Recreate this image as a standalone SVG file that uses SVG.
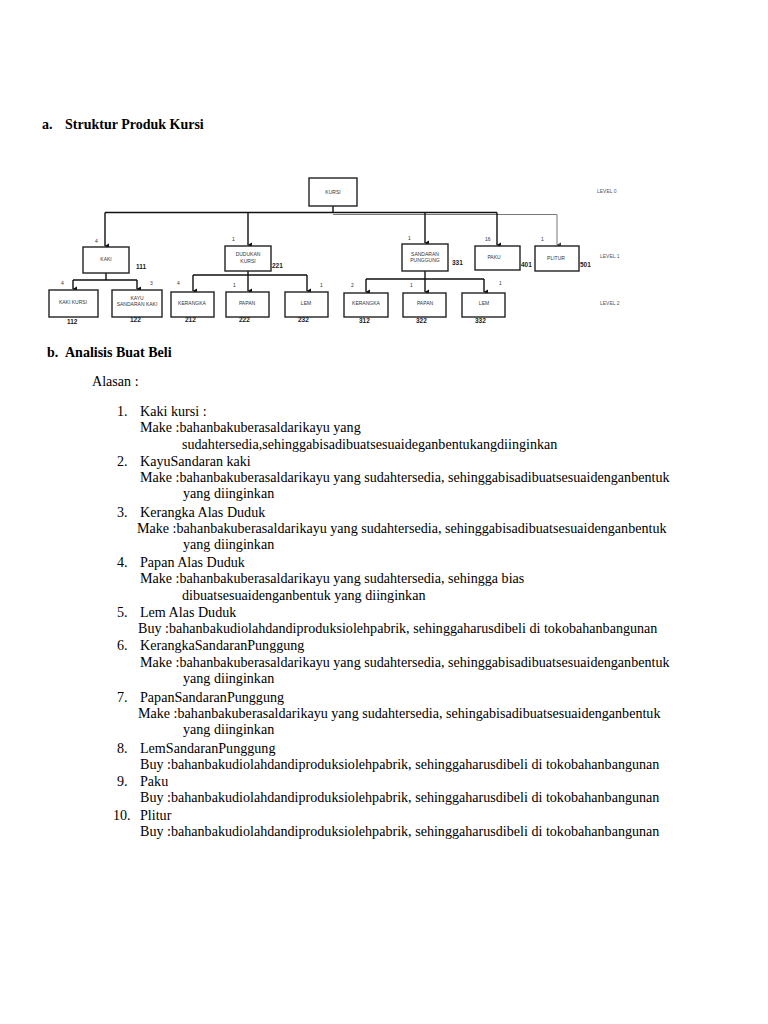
<svg xmlns="http://www.w3.org/2000/svg" width="768" height="1024" viewBox="0 0 768 1024">
<defs>
<marker id="ah" markerWidth="6" markerHeight="6" refX="3" refY="5" orient="auto" markerUnits="userSpaceOnUse" viewBox="0 0 6 6">
<path d="M0.5,1 L5.5,1 L3,5.5 Z" fill="#111"/>
</marker>
<marker id="ahg" markerWidth="6" markerHeight="6" refX="3" refY="5" orient="auto" markerUnits="userSpaceOnUse" viewBox="0 0 6 6">
<path d="M0.5,1 L5.5,1 L3,5.5 Z" fill="#444"/>
</marker>
<style>
.box{fill:#fff;stroke:#222;stroke-width:1.4}
.lbl{font-family:"Liberation Sans",Arial,sans-serif;font-size:5px;fill:#333;text-anchor:middle}
.qty{font-family:"Liberation Sans",Arial,sans-serif;font-size:5px;fill:#333}
.code{font-family:"Liberation Sans",Arial,sans-serif;font-size:6.5px;font-weight:bold;fill:#222}
.lvl{font-family:"Liberation Sans",Arial,sans-serif;font-size:5px;fill:#555}
.ln{fill:none;stroke:#111;stroke-width:1.4}
.lng{fill:none;stroke:#777;stroke-width:1}
.h{font-family:"Liberation Serif","Times New Roman",serif;font-size:14px;font-weight:bold;fill:#000}
.t{font-family:"Liberation Serif","Times New Roman",serif;font-size:14.1px;fill:#000}
</style>
</defs>
<rect width="768" height="1024" fill="#fff"/>

<text class="h" x="42" y="129">a.</text>
<text class="h" x="65" y="129">Struktur Produk Kursi</text>

<g id="connectors">
<path class="ln" d="M333,206 V212.5"/>
<path class="ln" d="M105,212.5 H497"/>
<path class="lng" d="M333,214.5 H557 V245" marker-end="url(#ahg)"/>
<path class="ln" d="M105,212.5 V246" marker-end="url(#ah)"/>
<path class="ln" d="M248,212.5 V245" marker-end="url(#ah)"/>
<path class="ln" d="M425,212.5 V243" marker-end="url(#ah)"/>
<path class="ln" d="M497,212.5 V245" marker-end="url(#ah)"/>

<path class="ln" d="M106,273 V280 M73,280 H137"/>
<path class="ln" d="M73,280 V289" marker-end="url(#ah)"/>
<path class="ln" d="M137,280 V289" marker-end="url(#ah)"/>

<path class="ln" d="M248,271 V275 M193,275 H307"/>
<path class="ln" d="M193,275 V291" marker-end="url(#ah)"/>
<path class="ln" d="M248,275 V291" marker-end="url(#ah)"/>
<path class="ln" d="M307,275 V291" marker-end="url(#ah)"/>

<path class="ln" d="M425,271 V279 M366,279 H484"/>
<path class="ln" d="M366,279 V292" marker-end="url(#ah)"/>
<path class="ln" d="M425,279 V292" marker-end="url(#ah)"/>
<path class="ln" d="M484,279 V292" marker-end="url(#ah)"/>
</g>

<g id="n-kursi"><rect class="box" x="309" y="178" width="48" height="28"/><text class="lbl" x="333" y="193.5">KURSI</text></g>

<g id="n-kaki"><rect class="box" x="83" y="247" width="46" height="26"/><text class="lbl" x="106" y="261">KAKI</text>
<text class="qty" x="95" y="243">4</text><text class="code" x="136" y="269">111</text></g>
<g id="n-dudukan"><rect class="box" x="225" y="246" width="46" height="25"/><text class="lbl" x="248" y="256">DUDUKAN</text><text class="lbl" x="248" y="262.5">KURSI</text>
<text class="qty" x="232" y="241">1</text><text class="code" x="272" y="268">221</text></g>
<g id="n-sandaran"><rect class="box" x="402" y="244" width="46" height="27"/><text class="lbl" x="425" y="256">SANDARAN</text><text class="lbl" x="425" y="261.5">PUNGGUNG</text>
<text class="qty" x="408" y="240">1</text><text class="code" x="452" y="265">331</text></g>
<g id="n-paku"><rect class="box" x="475" y="246" width="45" height="24"/><text class="lbl" x="494" y="259">PAKU</text>
<text class="qty" x="485" y="241">16</text><text class="code" x="521" y="267">401</text></g>
<g id="n-plitur"><rect class="box" x="535" y="246" width="44" height="25"/><text class="lbl" x="556" y="260">PLITUR</text>
<text class="qty" x="541" y="241">1</text><text class="code" x="580" y="267">501</text></g>

<g id="n-kakikursi"><rect class="box" x="49" y="290" width="49" height="27"/><text class="lbl" x="73" y="304">KAKI KURSI</text>
<text class="qty" x="61" y="285">4</text><text class="code" x="67" y="324">112</text></g>
<g id="n-kayu"><rect class="box" x="112" y="290" width="50" height="27"/><text class="lbl" x="137" y="299.5">KAYU</text><text class="lbl" x="137" y="306">SANDARAN KAKI</text>
<text class="qty" x="150" y="285">3</text><text class="code" x="130" y="322">122</text></g>
<g id="n-kerangka1"><rect class="box" x="171" y="292" width="43" height="25"/><text class="lbl" x="192" y="304.5">KERANGKA</text>
<text class="qty" x="177" y="285">4</text><text class="code" x="185" y="322">212</text></g>
<g id="n-papan1"><rect class="box" x="226" y="292" width="43" height="25"/><text class="lbl" x="247" y="304.5">PAPAN</text>
<text class="qty" x="233" y="287">1</text><text class="code" x="239" y="322">222</text></g>
<g id="n-lem1"><rect class="box" x="285" y="292" width="43" height="25"/><text class="lbl" x="306" y="304.5">LEM</text>
<text class="qty" x="320" y="287">1</text><text class="code" x="298" y="322">232</text></g>
<g id="n-kerangka2"><rect class="box" x="344" y="293" width="44" height="24"/><text class="lbl" x="366" y="305">KERANGKA</text>
<text class="qty" x="351" y="287">2</text><text class="code" x="359" y="323">312</text></g>
<g id="n-papan2"><rect class="box" x="403" y="293" width="43" height="24"/><text class="lbl" x="425" y="305">PAPAN</text>
<text class="qty" x="410" y="287">1</text><text class="code" x="416" y="323">322</text></g>
<g id="n-lem2"><rect class="box" x="462" y="293" width="43" height="24"/><text class="lbl" x="484" y="305">LEM</text>
<text class="qty" x="499" y="285">1</text><text class="code" x="475" y="323">332</text></g>

<text class="lvl" x="597" y="193">LEVEL 0</text>
<text class="lvl" x="600" y="258">LEVEL 1</text>
<text class="lvl" x="600" y="305">LEVEL 2</text>

<text class="h" x="47" y="357">b.</text>
<text class="h" x="65" y="357">Analisis Buat Beli</text>
<text class="t" x="92" y="386">Alasan :</text>

<g class="t">
<text class="t" x="117" y="416">1.</text><text class="t" x="140" y="416">Kaki kursi :</text>
<text class="t" x="140" y="432">Make :bahanbakuberasaldarikayu yang</text>
<text class="t" x="182" y="449">sudahtersedia,sehinggabisadibuatsesuaideganbentukangdiinginkan</text>
<text class="t" x="117" y="466">2.</text><text class="t" x="140" y="466">KayuSandaran kaki</text>
<text class="t" x="140" y="482">Make :bahanbakuberasaldarikayu yang sudahtersedia, sehinggabisadibuatsesuaidenganbentuk</text>
<text class="t" x="183" y="498">yang diinginkan</text>
<text class="t" x="117" y="517">3.</text><text class="t" x="140" y="517">Kerangka Alas Duduk</text>
<text class="t" x="137" y="533">Make :bahanbakuberasaldarikayu yang sudahtersedia, sehinggabisadibuatsesuaidenganbentuk</text>
<text class="t" x="183" y="549">yang diinginkan</text>
<text class="t" x="117" y="567">4.</text><text class="t" x="140" y="567">Papan Alas Duduk</text>
<text class="t" x="140" y="583">Make :bahanbakuberasaldarikayu yang sudahtersedia, sehingga bias</text>
<text class="t" x="182" y="600">dibuatsesuaidenganbentuk yang diinginkan</text>
<text class="t" x="117" y="617">5.</text><text class="t" x="140" y="617">Lem Alas Duduk</text>
<text class="t" x="138" y="633">Buy :bahanbakudiolahdandiproduksiolehpabrik, sehinggaharusdibeli di tokobahanbangunan</text>
<text class="t" x="117" y="650">6.</text><text class="t" x="140" y="650">KerangkaSandaranPunggung</text>
<text class="t" x="140" y="667">Make :bahanbakuberasaldarikayu yang sudahtersedia, sehinggabisadibuatsesuaidenganbentuk</text>
<text class="t" x="183" y="683">yang diinginkan</text>
<text class="t" x="117" y="702">7.</text><text class="t" x="140" y="702">PapanSandaranPunggung</text>
<text class="t" x="138" y="718">Make :bahanbakuberasaldarikayu yang sudahtersedia, sehingabisadibuatsesuaidenganbentuk</text>
<text class="t" x="183" y="734">yang diinginkan</text>
<text class="t" x="117" y="753">8.</text><text class="t" x="140" y="753">LemSandaranPunggung</text>
<text class="t" x="140" y="769">Buy :bahanbakudiolahdandiproduksiolehpabrik, sehinggaharusdibeli di tokobahanbangunan</text>
<text class="t" x="117" y="786">9.</text><text class="t" x="140" y="786">Paku</text>
<text class="t" x="140" y="802">Buy :bahanbakudiolahdandiproduksiolehpabrik, sehinggaharusdibeli di tokobahanbangunan</text>
<text class="t" x="113" y="820">10.</text><text class="t" x="140" y="820">Plitur</text>
<text class="t" x="140" y="836">Buy :bahanbakudiolahdandiproduksiolehpabrik, sehinggaharusdibeli di tokobahanbangunan</text>
</g>
</svg>
